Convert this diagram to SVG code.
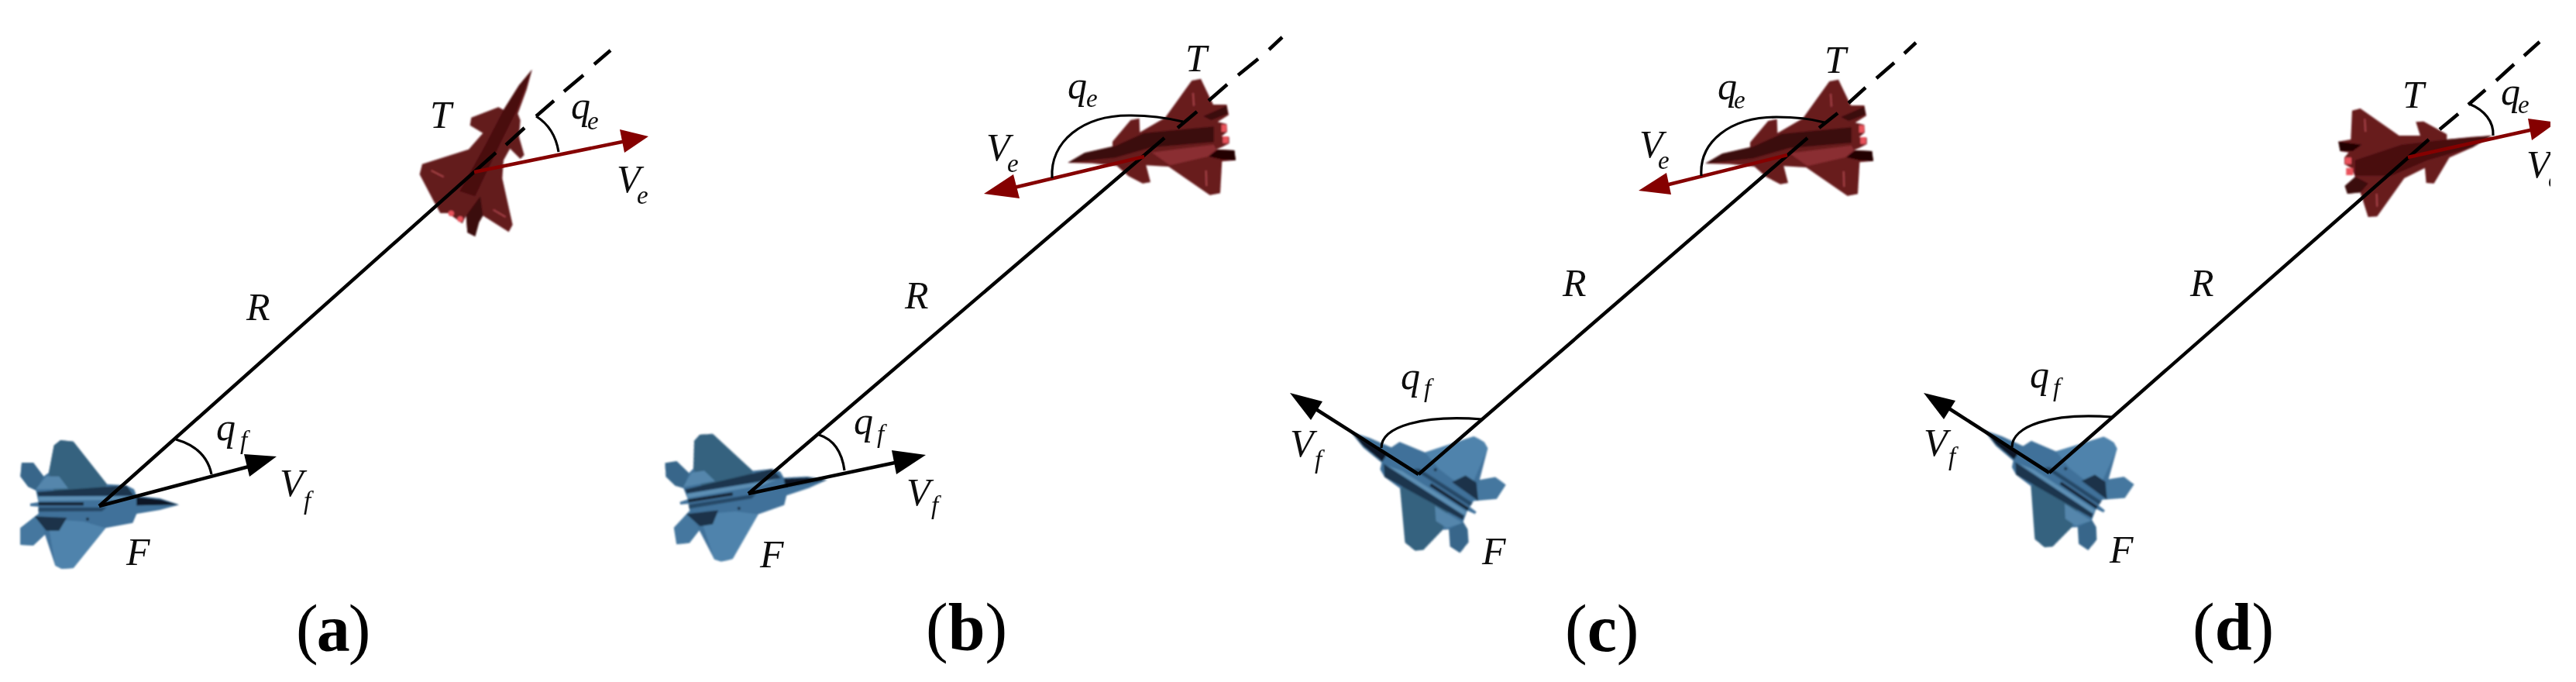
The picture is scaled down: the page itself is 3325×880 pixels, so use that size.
<svg xmlns="http://www.w3.org/2000/svg" xmlns:xlink="http://www.w3.org/1999/xlink" width="3325" height="880" viewBox="0 0 3325 880">
<style>
text{font-family:"Liberation Serif","Times New Roman",serif;fill:#111}
.m{font-style:italic;font-size:50px}
.s{font-size:33px;font-style:italic}
.cap{font-size:86px;fill:#000}
.cap tspan{font-weight:bold}
.ln{fill:none;stroke:#000;stroke-width:4.5}
.arc{fill:none;stroke:#000;stroke-width:3.2}
.red{fill:none;stroke:#850000;stroke-width:4.5}
.rh{fill:#850000}
.kh{fill:#000}
</style>
<defs>
<filter id="b3" x="-10%" y="-10%" width="120%" height="120%"><feGaussianBlur stdDeviation="3"/></filter>
<filter id="b1" x="-5%" y="-5%" width="110%" height="110%"><feGaussianBlur stdDeviation="0.7"/></filter>
<clipPath id="cut"><rect x="0" y="0" width="3292" height="880"/></clipPath>
<g id="blue" filter="url(#b3)">
<path fill="#40719a" d="M310,-5L235,-30L145,-40L135,-65L105,-80L30,-85L-100,-250L-150,-255L-175,-235L-195,-130L-215,-115L-255,-168L-300,-168L-305,-115L-275,-75L-245,-60L-235,-15L-267,-10L-267,0L-235,2L-235,30L-305,85L-305,150L-255,152L-210,110L-170,230L-145,243L-100,240L25,85L130,65L145,30L235,15Z"/>
<path fill="#36627f" d="M30,-85L-100,-250L-150,-255L-175,-235L-195,-130L-175,-60L20,-60Z"/>
<path fill="#38668a" d="M-255,-168L-300,-168L-305,-115L-275,-75L-245,-62L-215,-115Z"/>
<path fill="#5486ac" d="M-245,-65L-205,-115L-155,-115L-120,-68Z"/>
<path fill="#4f83ac" d="M-170,230L-145,243L-100,240L25,85L-60,60L-200,50Z"/>
<path fill="#44779f" d="M-305,85L-305,150L-255,152L-210,110L-235,30Z"/>
<path fill="#1a3349" d="M-250,40L-125,45L-155,95L-205,95Z"/>
<path fill="#1b364d" d="M-240,-55L105,-80L135,-40L-235,-38Z"/>
<path fill="#5d8fb4" d="M-235,-36L120,-38L60,-24L-235,-20Z"/>
<path fill="#122638" d="M-235,-15L-60,-15L-60,-2L-235,-2Z"/>
<path fill="#0c1825" d="M145,-35L240,-25L305,-5L145,-2Z"/>
<path fill="#264a68" d="M-235,5L30,5L10,20L-235,22Z"/>
<circle cx="-45" cy="50" r="6" fill="#1b3044"/>
</g>
<g id="redB" filter="url(#b3)">
<path fill="#681a1e" d="M235,510L300,472L408,447L408,428L478,345L512,338L514,392L612,335L715,192L750,185L798,285L850,285L858,325L815,352L850,360L852,390L830,408L860,410L860,435L830,450L810,458L880,462L885,500L832,505L825,628L785,635L625,525L538,520L555,585L525,590L470,562L425,522L330,512Z"/>
<path fill="#3a0709" d="M235,510L300,472L420,445L530,395L800,370L800,430L560,450L420,490Z"/>
<path fill="#8a2f33" d="M560,470L800,440L810,458L780,485L630,520Z"/>
<path fill="#3a0709" d="M760,330L850,290L855,320L790,345Z"/>
<path fill="#200304" d="M780,485L815,460L880,462L885,500L830,497Z"/>
<path fill="#e8525c" d="M830,362h20v28h-20zM835,408h22v26h-22z"/>
<path fill="none" stroke="#b0464c" stroke-width="5" d="M720,240L723,290M770,540L772,600"/>
</g>
<g id="redA" filter="url(#b3)">
<path fill="#641a1d" d="M620,150L600,225L565,320L575,345L570,410L590,480L575,495L535,455L510,500L505,570L545,750L530,778L430,715L415,740L400,795L370,780L365,715L350,745L295,705L265,705L240,660L185,555L195,515L375,458L430,395L380,365L385,335L490,295L510,305L570,210Z"/>
<path fill="#4a0d10" d="M620,150L560,310L500,430L400,640L340,620L440,440L510,305L570,210Z"/>
<path fill="#3a0709" d="M370,780L365,715L420,640L430,715L415,740L400,795Z"/>
<circle cx="307" cy="706" r="11" fill="#e8525c"/><circle cx="342" cy="728" r="11" fill="#e8525c"/>
<path fill="none" stroke="#b0464c" stroke-width="5" d="M230,540L278,565M470,692L518,720"/>
</g>
<g id="redD" filter="url(#b3)">
<path fill="#681a1e" d="M950,405L870,410L775,420L775,400L685,350L655,352L672,405L590,405L440,300L408,308L403,420L355,428L362,465L395,470L378,490L378,515L405,530L420,565L380,600L390,630L440,625L470,720L505,718L610,570L690,530L695,588L725,590L785,490L875,450Z"/>
<path fill="#4a0d10" d="M950,405L775,420L600,440L420,500L420,560L560,560L700,500L875,450Z"/>
<path fill="#200304" d="M355,428L445,440L410,465L362,465Z"/>
<path fill="#3a0709" d="M380,600L420,565L470,590L440,625L390,630Z"/>
<path fill="#e8525c" d="M380,490h25v25h-25zM385,530h27v28h-27z"/>
<path fill="none" stroke="#b0464c" stroke-width="5" d="M457,340L460,390M503,630L505,680"/>
</g>
</defs>
<rect width="3325" height="880" fill="#fff"/>

<g id="node-F-a"><use xlink:href="#blue" href="#blue" transform="translate(128,653) scale(.3333)"/></g>
<g id="node-T-a"><use xlink:href="#redA" href="#redA" transform="translate(480,40) scale(.3333)"/></g>
<g id="node-F-b"><use xlink:href="#blue" href="#blue" transform="translate(966,637) rotate(-9) scale(.3333)"/></g>
<g id="node-T-b"><use xlink:href="#redB" href="#redB" transform="translate(1300,40) scale(.3333)"/></g>
<g id="node-F-c"><use xlink:href="#blue" href="#blue" transform="translate(1831,612) rotate(213) scale(.3333)"/></g>
<g id="node-T-c"><use xlink:href="#redB" href="#redB" transform="translate(2123,41) scale(.3333)"/></g>
<g id="node-F-d"><use xlink:href="#blue" href="#blue" transform="translate(2645,610) rotate(214) scale(.325)"/></g>
<g id="node-T-d"><use xlink:href="#redD" href="#redD" transform="translate(2900,40) scale(.3333)"/></g>

<g id="connectors" filter="url(#b1)" clip-path="url(#cut)">
<path class="ln" d="M128,653L640,197M653,187L677,165M692,150L715,130M728,118L753,97M767,83L788,65"/>
<path class="arc" d="M692,150Q716,165 721,196"/>
<path class="ln" d="M128,653L325,601"/><path class="kh" d="M357,589L315,586L322,615Z"/>
<path class="arc" d="M227,567Q266,578 273,612"/>
<path class="red" d="M612,222L808,182"/><path class="rh" d="M837,176L800,167L806,197Z"/>

<path class="ln" d="M966,637L1503,178M1520,165L1545,144M1560,130L1584,109M1598,97L1624,76M1638,64L1655,48"/>
<path class="ln" d="M966,637L1160,596"/><path class="kh" d="M1195,587L1151,581L1157,612Z"/>
<path class="arc" d="M1057,561Q1085,570 1090,607"/>
<path class="red" d="M1477,202L1305,243"/><path class="rh" d="M1270,250L1308,225L1316,256Z"/>
<path class="arc" d="M1358,230C1355,183 1397,148 1460,149C1487,149 1510,153 1527,157"/>

<path class="ln" d="M1831,612L2333,178M2348,165L2372,146M2386,133L2408,113M2422,101L2445,81M2458,69L2473,55"/>
<path class="ln" d="M1831,612L1697,527"/><path class="kh" d="M1665,507L1707,518L1692,542Z"/>
<path class="arc" d="M1783,578C1783,550 1837,535 1913,541"/>
<path class="red" d="M2307,200L2150,239"/><path class="rh" d="M2115,246L2151,223L2157,251Z"/>
<path class="arc" d="M2196,227C2193,183 2233,151 2293,151C2313,151 2337,153 2355,158"/>

<path class="ln" d="M2645,610L3135,180M3149,167L3173,147M3186,135L3208,116M3222,104L3245,83M3258,72L3278,54"/>
<path class="ln" d="M2645,610L2514,526"/><path class="kh" d="M2483,507L2524,517L2509,541Z"/>
<path class="arc" d="M2597,577C2597,550 2647,532 2726,538"/>
<path class="red" d="M3108,203L3270,167"/><path class="rh" d="M3300,158L3263,153L3268,181Z"/>
<path class="arc" d="M3187,134C3207,142 3219,157 3218,175"/>
</g>

<g id="labels" filter="url(#b1)" clip-path="url(#cut)">
<text class="m" x="555" y="165">T</text>
<text class="m" x="737" y="153">q<tspan class="s" x="758" y="167">e</tspan></text>
<text class="m" x="796" y="248">V<tspan class="s" x="822" y="263">e</tspan></text>
<text class="m" x="318" y="413">R</text>
<text class="m" x="163" y="729">F</text>
<text class="m" x="279" y="568">q<tspan class="s" x="310" y="579">f</tspan></text>
<text class="m" x="361" y="640">V<tspan class="s" x="392" y="657">f</tspan></text>

<text class="m" x="1530" y="92">T</text>
<text class="m" x="1378" y="127">q<tspan class="s" x="1402" y="138">e</tspan></text>
<text class="m" x="1273" y="207">V<tspan class="s" x="1300" y="222">e</tspan></text>
<text class="m" x="1168" y="398">R</text>
<text class="m" x="981" y="732">F</text>
<text class="m" x="1102" y="560">q<tspan class="s" x="1132" y="571">f</tspan></text>
<text class="m" x="1170" y="652">V<tspan class="s" x="1202" y="663">f</tspan></text>

<text class="m" x="2355" y="94">T</text>
<text class="m" x="2217" y="128">q<tspan class="s" x="2238" y="140">e</tspan></text>
<text class="m" x="2116" y="203">V<tspan class="s" x="2140" y="218">e</tspan></text>
<text class="m" x="2017" y="382">R</text>
<text class="m" x="1913" y="728">F</text>
<text class="m" x="1808" y="502">q<tspan class="s" x="1838" y="512">f</tspan></text>
<text class="m" x="1665" y="589">V<tspan class="s" x="1697" y="604">f</tspan></text>

<text class="m" x="3101" y="139">T</text>
<text class="m" x="3228" y="135">q<tspan class="s" x="3250" y="146">e</tspan></text>
<text class="m" x="3261" y="229">V<tspan class="s" x="3289" y="242">e</tspan></text>
<text class="m" x="2827" y="382">R</text>
<text class="m" x="2723" y="726">F</text>
<text class="m" x="2620" y="500">q<tspan class="s" x="2650" y="511">f</tspan></text>
<text class="m" x="2483" y="588">V<tspan class="s" x="2515" y="600">f</tspan></text>
</g>

<g id="captions">
<text class="cap" x="382" y="840" letter-spacing="-2">(<tspan>a</tspan>)</text>
<text class="cap" x="1195" y="838">(<tspan>b</tspan>)</text>
<text class="cap" x="2020" y="840">(<tspan>c</tspan>)</text>
<text class="cap" x="2830" y="838">(<tspan>d</tspan>)</text>
</g>
</svg>
